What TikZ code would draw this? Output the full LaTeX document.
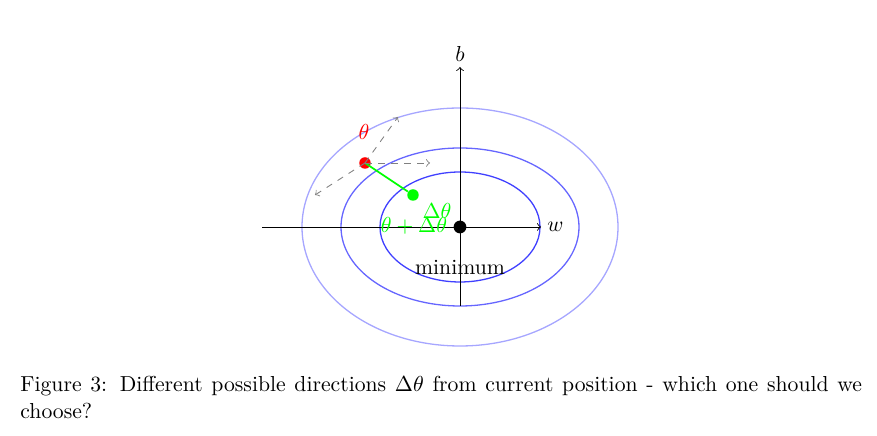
\documentclass[tikz,border=0pt]{standalone}
\usetikzlibrary{arrows}
\begin{document}
\begin{tikzpicture}[x=0.461pt,y=-0.461pt,
  dot/.style={circle,inner sep=0pt,minimum size=5.3pt},
  axis/.style={->,black,line width=0.4pt},
  dir/.style={->,gray,dashed,line width=0.4pt},
  lbl/.style={inner sep=0pt}]
\useasboundingbox (0,0) rectangle (877,436);
% ellipses
\draw[blue!35,line width=0.6pt] (460,227) ellipse [x radius=158, y radius=119];
\draw[blue!60,line width=0.6pt] (460,227) ellipse [x radius=119, y radius=79];
\draw[blue!75,line width=0.6pt] (460,227) ellipse [x radius=80, y radius=55];
% axes
\coordinate (xl) at (262,227);
\coordinate (xr) at (541,227);
\coordinate (yb) at (460,306);
\coordinate (yt) at (460,67);
\draw[axis] (xl) -- (xr);
\draw[axis] (yb) -- (yt);
\node[lbl,anchor=west] (wl) at (547,227) {$w$};
\node[lbl,anchor=south] (bl) at (460,62) {$b$};
% points
\node[dot,fill=black,minimum size=5.9pt] (min) at (460,227) {};
\node[dot,fill=red] (th) at (365,163) {};
\node[dot,fill=green] (nth) at (413,195) {};
\draw[green,line width=0.8pt] (th.center) -- (nth);
% directions
\coordinate (d1) at (398,117);
\coordinate (d2) at (430,163);
\coordinate (d3) at (315,195);
\draw[dir] (th.center) -- (d1);
\draw[dir] (th.center) -- (d2);
\draw[dir] (th.center) -- (d3);
% labels
\node[lbl,text=red] (thl) at (364,132) {$\theta$};
\node[lbl,text=green] (dl) at (437,211) {$\Delta\theta$};
\node[lbl,text=green] (tdl) at (414,226) {$\theta+\Delta\theta$};
\node[lbl] (ml) at (460,268) {minimum};
% caption
\node[lbl,anchor=base west,text width=388pt,align=justify] (cap) at (20,392)
 {Figure 3: Different possible directions $\Delta\theta$ from current position - which one should we choose?};
\end{tikzpicture}
\end{document}
